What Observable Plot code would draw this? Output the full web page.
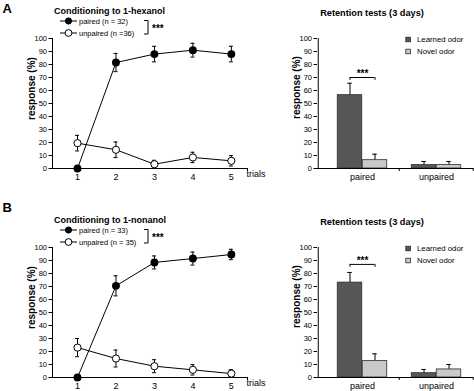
<!DOCTYPE html>
<html><head><meta charset="utf-8">
<script src="https://cdn.jsdelivr.net/npm/d3@7"></script>
<script src="https://cdn.jsdelivr.net/npm/@observablehq/plot@0.6"></script>
<style>
body{margin:0;background:#fff;font-family:"Liberation Sans",Arial,sans-serif;}
#root{position:relative;width:474px;height:391px;overflow:hidden;background:#fff;}
#root > svg, #root > div{position:absolute;}
</style></head><body><div id="root"></div>
<script>
// ---------- data ----------
const trials = [1, 2, 3, 4, 5];
const yTicks = [0, 10, 20, 30, 40, 50, 60, 70, 80, 90, 100];

const hexanolPaired = [0, 81.5, 88, 91, 88];
const hexanolPairedErr = [0, 7, 6, 5.3, 6];
const hexanolUnpaired = [19.5, 14.4, 3.3, 8.5, 5.9];
const hexanolUnpairedErr = [6, 6, 3, 4, 4];

const nonanolPaired = [0, 70.5, 88.5, 91.5, 94.6];
const nonanolPairedErr = [0, 7.7, 5, 5, 4];
const nonanolUnpaired = [23, 14.6, 8.7, 5.9, 3];
const nonanolUnpairedErr = [7, 6.5, 5, 4, 3];

const groups = ["paired", "unpaired"];
const odors = ["Learned odor", "Novel odor"];
const hexanolLearned = [56.4, 2.6];
const hexanolLearnedErr = [9.2, 2.8];
const hexanolNovel = [6.4, 2.6];
const hexanolNovelErr = [4.6, 2.8];
const nonanolLearned = [73, 3.3];
const nonanolLearnedErr = [7.8, 2.9];
const nonanolNovel = [12.6, 6.2];
const nonanolNovelErr = [5.6, 3.8];

const panelLetters = ["A", "B"];
const lineTitles = ["Conditioning to 1-hexanol", "Conditioning to 1-nonanol"];
const barTitle = "Retention tests (3 days)";
const seriesLabels = [["paired (n = 32)", "unpaired (n =36)"], ["paired (n = 33)", "unpaired (n = 35)"]];
const sigLabel = "***";
const barSigLevel = [70, 87];
const yLabel = "response (%)";
const xLabel = "trials";

const FONT = '"Liberation Sans", Arial, sans-serif';
const rowTops = [0, 209];
const learnedFill = "#575757", novelFill = "#c9c9c9";

const root = document.getElementById("root");

function linePlot(paired, pairedErr, unpaired, unpairedErr) {
  const P = trials.map((t, i) => ({trial: t, v: paired[i], e: pairedErr[i]}));
  const U = trials.map((t, i) => ({trial: t, v: unpaired[i], e: unpairedErr[i]}));
  const E = P.concat(U).filter(d => d.e > 0);
  const xd = [0.35, 5.42];
  return Plot.plot({
    width: 270, height: 192, marginTop: 38, marginBottom: 24, marginLeft: 52, marginRight: 23,
    style: {background: "transparent", fontFamily: FONT, color: "#000"},
    x: {domain: xd},
    y: {domain: [0, 100]},
    marks: [
      Plot.ruleX([xd[0]], {y1: 0, y2: 100, stroke: "#000"}),
      Plot.ruleY([0], {stroke: "#000"}),
      Plot.ruleX([xd[1]], {y1: 0, y2: 0, insetBottom: -3, stroke: "#000"}),
      Plot.axisY(yTicks, {tickSize: 3.5, tickPadding: 2, fontSize: 7.5, label: null}),
      Plot.axisX(trials, {tickSize: 0, tickPadding: 5, fontSize: 9, label: null}),
      Plot.text([xLabel], {frameAnchor: "bottom-right", textAnchor: "start", dx: -1, dy: 8.5, fontSize: 9}),
      Plot.text([yLabel], {frameAnchor: "left", textAnchor: "middle", rotate: -90, dx: -21, dy: -15, fontSize: 10, fontWeight: "bold"}),
      Plot.line(P, {x: "trial", y: "v", stroke: "#000", strokeWidth: 1}),
      Plot.line(U, {x: "trial", y: "v", stroke: "#000", strokeWidth: 1}),
      Plot.ruleX(E, {x: "trial", y1: d => Math.max(0, d.v - d.e), y2: d => d.v + d.e, stroke: "#000"}),
      Plot.ruleY(E, {x1: "trial", x2: "trial", y: d => d.v + d.e, insetLeft: -2, insetRight: -2, stroke: "#000"}),
      Plot.ruleY(E, {x1: "trial", x2: "trial", y: d => Math.max(0, d.v - d.e), insetLeft: -2, insetRight: -2, stroke: "#000"}),
      Plot.dot(P, {x: "trial", y: "v", r: 3.2, fill: "#000", stroke: "#000"}),
      Plot.dot(U, {x: "trial", y: "v", r: 3.6, fill: "#fff", stroke: "#000", strokeWidth: 1})
    ]
  });
}

function barPlot(learned, learnedErr, novel, novelErr, sig) {
  const L = groups.map((g, i) => ({group: g, odor: odors[0], v: learned[i], e: learnedErr[i]}));
  const N = groups.map((g, i) => ({group: g, odor: odors[1], v: novel[i], e: novelErr[i]}));
  const S = [{group: groups[0], y: sig, label: sigLabel}];
  const xr = [54, 203];
  const band = (xr[1] - xr[0]) / groups.length;
  const barW = 25;
  const side = (band - 2 * barW) / 2;
  const cap = 2.5;
  return Plot.plot({
    width: 204, height: 192, marginTop: 38, marginBottom: 24, marginLeft: 47, marginRight: 1,
    style: {background: "transparent", fontFamily: FONT, color: "#000"},
    x: {domain: groups, range: xr, padding: 0},
    y: {domain: [0, 100]},
    color: {domain: odors, range: [learnedFill, novelFill]},
    marks: [
      Plot.ruleX(S, {x: "group", y1: 0, y2: 100, dx: -(band / 2 + (xr[0] - 47)), stroke: "#000"}),
      Plot.axisY(yTicks, {tickSize: 3.5, tickPadding: 2, fontSize: 7.5, label: null}),
      Plot.axisX(groups, {tickSize: 0, tickPadding: 5, fontSize: 9, label: null}),
      Plot.text([yLabel], {frameAnchor: "left", textAnchor: "middle", rotate: -90, dx: -21, dy: -16, fontSize: 10, fontWeight: "bold"}),
      Plot.ruleX(L, {x: "group", y1: "v", y2: d => d.v + d.e, dx: -barW / 2, stroke: "#000"}),
      Plot.ruleX(N, {x: "group", y1: "v", y2: d => d.v + d.e, dx: barW / 2, stroke: "#000"}),
      Plot.tickY(L, {x: "group", y: d => d.v + d.e, insetLeft: side + barW / 2 - cap, insetRight: band - side - barW / 2 - cap, stroke: "#000"}),
      Plot.tickY(N, {x: "group", y: d => d.v + d.e, insetLeft: side + 1.5 * barW - cap, insetRight: side + barW / 2 - cap, stroke: "#000"}),
      Plot.barY(L, {x: "group", y: "v", fill: "odor", stroke: "#2b2b2b", strokeWidth: 0.8, insetLeft: side, insetRight: side + barW}),
      Plot.barY(N, {x: "group", y: "v", fill: "odor", stroke: "#2b2b2b", strokeWidth: 0.8, insetLeft: side + barW, insetRight: side}),
      Plot.ruleY([0], {stroke: "#000"}),
      Plot.ruleX([groups[1]], {x: d => d, y1: 0, y2: 0, insetBottom: -3, dx: -band / 2, stroke: "#000"}),
      Plot.ruleX([groups[1]], {x: d => d, y1: 0, y2: 0, insetBottom: -3, dx: band / 2 - 0.5, stroke: "#000"}),
      // significance bracket
      Plot.tickY(S, {x: "group", y: "y", insetLeft: side + barW / 2, insetRight: side + barW / 2, stroke: "#000"}),
      Plot.ruleX(S, {x: "group", y1: d => d.y - 2.2, y2: "y", dx: -barW / 2, stroke: "#000"}),
      Plot.ruleX(S, {x: "group", y1: d => d.y - 2.2, y2: "y", dx: barW / 2, stroke: "#000"}),
      Plot.text(S, {x: "group", y: "y", text: "label", dy: -4, fontSize: 10, fontWeight: "bold"})
    ]
  });
}

const lineData = [
  [hexanolPaired, hexanolPairedErr, hexanolUnpaired, hexanolUnpairedErr],
  [nonanolPaired, nonanolPairedErr, nonanolUnpaired, nonanolUnpairedErr]
];
const barData = [
  [hexanolLearned, hexanolLearnedErr, hexanolNovel, hexanolNovelErr],
  [nonanolLearned, nonanolLearnedErr, nonanolNovel, nonanolNovelErr]
];

rowTops.forEach((top, r) => {
  const lp = linePlot(...lineData[r]);
  lp.style.position = "absolute"; lp.style.left = "0px"; lp.style.top = top + "px";
  root.appendChild(lp);
  const bp = barPlot(...barData[r], barSigLevel[r]);
  bp.style.position = "absolute"; bp.style.left = "270px"; bp.style.top = top + "px";
  root.appendChild(bp);
});

// overlay: panel letters, titles, legends
const ns = "http://www.w3.org/2000/svg";
const ov = document.createElementNS(ns, "svg");
ov.setAttribute("width", 474); ov.setAttribute("height", 391);
ov.style.left = "0px"; ov.style.top = "0px"; ov.style.fontFamily = FONT;
function el(tag, attrs, text) {
  const e = document.createElementNS(ns, tag);
  for (const k in attrs) e.setAttribute(k, attrs[k]);
  if (text != null) e.textContent = text;
  ov.appendChild(e);
  return e;
}
const letterBase = [12.5, 211.5];
rowTops.forEach((t, r) => {
  el("text", {x: 2.5, y: letterBase[r], "font-size": 13, "font-weight": "bold"}, panelLetters[r]);
  el("text", {x: 54, y: t + 14, "font-size": 9, "font-weight": "bold"}, lineTitles[r]);
  el("text", {x: 372, y: t + 16, "font-size": 9.2, "font-weight": "bold", "text-anchor": "middle"}, barTitle);
  // line legend
  const ly = [t + 21, t + 33];
  ly.forEach((y, k) => {
    el("line", {x1: 60, x2: 77, y1: y, y2: y, stroke: "#000", "stroke-width": 1});
    el("circle", {cx: 68.5, cy: y, r: k === 0 ? 3.1 : 3.4, fill: k === 0 ? "#000" : "#fff", stroke: "#000", "stroke-width": 1});
    el("text", {x: 79, y: y + 2.7, "font-size": 7.5}, seriesLabels[r][k]);
  });
  el("path", {d: `M144,${t + 20.5}H148V${t + 34}H144`, fill: "none", stroke: "#000", "stroke-width": 1});
  el("text", {x: 152, y: t + 32, "font-size": 10, "font-weight": "bold"}, sigLabel);
  // bar legend
  const by = [t + 39.5, t + 51.5];
  by.forEach((y, k) => {
    el("rect", {x: 405.8, y: y - 2.3, width: 4.6, height: 4.6, fill: k === 0 ? learnedFill : novelFill, stroke: "#2b2b2b", "stroke-width": 0.8});
    el("text", {x: 417, y: y + 2.8, "font-size": 7.8}, odors[k]);
  });
});
root.appendChild(ov);
</script></body></html>
